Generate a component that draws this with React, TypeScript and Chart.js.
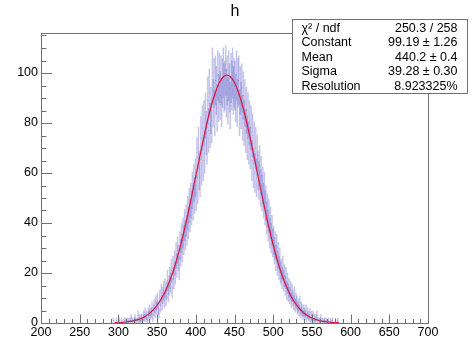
import React, { useEffect, useRef } from "react";
import { Chart, registerables } from "chart.js";

Chart.register(...registerables);

// Histogram "h": bins of width 1 from 200 to 700; counts for bins starting at binLow
const binLow = 290;
const counts = [
  0, 0, 0, 1, 0, 0, 0, 1, 0, 0,
  0, 1, 0, 0, 1, 0, 0, 1, 0, 1,
  0, 1, 0, 1, 0, 1, 2, 0, 1, 0,
  1, 2, 1, 0, 1, 3, 1, 2, 1, 2,
  2, 1, 3, 2, 4, 2, 3, 1, 4, 3,
  5, 3, 4, 6, 2, 5, 7, 4, 8, 6,
  9, 6, 4, 10, 7, 12, 8, 11, 13, 9,
  14, 10, 13, 17, 12, 15, 18, 16, 21, 14,
  22, 18, 24, 20, 27, 23, 29, 26, 22, 31,
  28, 34, 30, 36, 33, 39, 35, 41, 37, 44,
  40, 47, 43, 49, 46, 53, 48, 56, 51, 58,
  52, 66, 55, 70, 61, 58, 74, 63, 78, 65,
  80, 68, 83, 76, 72, 89, 77, 92, 79, 85,
  81, 100, 88, 96, 84, 97, 93, 86, 99, 90,
  98, 91, 97, 88, 96, 100, 94, 95, 101, 92,
  97, 89, 99, 94, 87, 98, 95, 100, 93, 96,
  95, 90, 99, 88, 96, 97, 84, 93, 87, 94,
  82, 91, 80, 88, 77, 85, 74, 83, 72, 80,
  70, 78, 65, 75, 62, 72, 60, 70, 58, 67,
  61, 57, 63, 54, 59, 52, 55, 49, 53, 46,
  48, 42, 45, 39, 43, 36, 40, 34, 37, 32,
  33, 29, 31, 26, 30, 24, 27, 22, 25, 20,
  21, 18, 22, 17, 19, 15, 18, 13, 16, 12,
  14, 11, 13, 9, 12, 10, 8, 11, 7, 9,
  8, 6, 7, 5, 8, 4, 6, 5, 3, 5,
  4, 3, 5, 2, 4, 3, 2, 4, 1, 3,
  2, 3, 1, 2, 1, 2, 3, 1, 0, 1,
  1, 2, 0, 1, 0, 1, 1, 0, 1, 0,
  0, 1, 0, 0, 1, 0, 1, 0, 0, 0,
  1, 0, 0, 1, 0, 0, 0, 0, 0, 0,
];

// Gaussian fit curve, sampled
const fitX = [
  295, 300, 305, 310, 315, 320, 325, 330, 335, 340, 345, 350, 355, 360, 365,
  370, 375, 380, 385, 390, 395, 400, 405, 410, 415, 420, 425, 430, 435, 440,
  445, 450, 455, 460, 465, 470, 475, 480, 485, 490, 495, 500, 505, 510, 515,
  520, 525, 530, 535, 540, 545, 550, 555, 560, 565, 570, 575, 580, 585,
];
const fitY = [
  0.11, 0.17, 0.27, 0.41, 0.62, 0.92, 1.34, 1.93, 2.74, 3.84, 5.25, 7.1, 9.48,
  12.3, 15.9, 20.0, 25.0, 30.6, 37.0, 43.8, 51.2, 58.9, 66.4, 73.8, 80.8, 86.9,
  92.0, 95.9, 98.3, 99.2, 98.4, 96.2, 92.4, 87.4, 81.3, 74.3, 67.0, 59.4, 51.7,
  44.3, 37.5, 31.2, 25.5, 20.4, 16.2, 12.6, 9.6, 7.3, 5.4, 3.9, 2.8, 2.0, 1.39,
  0.95, 0.64, 0.42, 0.27, 0.18, 0.11,
];

const titleText = "h";
const statLabels = ["χ² / ndf", "Constant", "Mean", "Sigma", "Resolution"];
const statValues = [
  "250.3 / 258",
  "99.19 \u00b1 1.26",
  "440.2 \u00b1 0.4",
  "39.28 \u00b1 0.30",
  "8.923325%",
];

const xMin = 200;
const xMax = 700;
const yMin = 0;
const yMax = 116;

const FONT = "'Liberation Sans', Arial, Helvetica, sans-serif";
const barColor = "rgba(100, 100, 200, 0.38)";
const fitColor = "rgb(220, 20, 60)";
const frameColor = "#707070";

const rootPlugin = {
  id: "rootDecor",
  afterDraw(chart: any) {
    const ctx = chart.ctx as CanvasRenderingContext2D;
    const { left, right, top, bottom } = chart.chartArea;
    const xs = chart.scales.x;
    const ys = chart.scales.y;
    ctx.save();
    // frame
    ctx.strokeStyle = frameColor;
    ctx.lineWidth = 1;
    ctx.strokeRect(Math.round(left) + 0.5, Math.round(top) + 0.5, Math.round(right - left), Math.round(bottom - top));
    // x ticks (inward)
    ctx.beginPath();
    for (let v = xMin; v <= xMax; v += 10) {
      const px = Math.round(xs.getPixelForValue(v)) + 0.5;
      const len = v % 50 === 0 ? 8.5 : 4;
      ctx.moveTo(px, bottom);
      ctx.lineTo(px, bottom - len);
    }
    // y ticks (inward)
    for (let v = yMin; v <= yMax; v += 5) {
      const py = Math.round(ys.getPixelForValue(v)) + 0.5;
      const len = v % 20 === 0 ? 11 : 5.5;
      ctx.moveTo(left, py);
      ctx.lineTo(left + len, py);
    }
    ctx.stroke();

    // title
    ctx.fillStyle = "#000";
    ctx.font = `16px ${FONT}`;
    ctx.textAlign = "center";
    ctx.textBaseline = "alphabetic";
    ctx.fillText(titleText, 235, 16);

    // stats box
    const bx = 292.5, by = 19.5, bw = 175, bh = 74;
    ctx.fillStyle = "#fff";
    ctx.fillRect(bx, by, bw, bh);
    ctx.strokeStyle = frameColor;
    ctx.strokeRect(bx, by, bw, bh);
    ctx.fillStyle = "#000";
    ctx.font = `12.5px ${FONT}`;
    ctx.textBaseline = "middle";
    for (let i = 0; i < statLabels.length; i++) {
      const yy = 28.5 + i * 14.4;
      ctx.textAlign = "left";
      ctx.fillText(statLabels[i], 301.5, yy);
      ctx.textAlign = "right";
      ctx.fillText(statValues[i], 457.5, yy);
    }
    ctx.restore();
  },
};

export default function App() {
  const ref = useRef<HTMLCanvasElement>(null);

  useEffect(() => {
    if (!ref.current) return;
    const errBars: any[] = [];
    const marks: any[] = [];
    counts.forEach((c, i) => {
      if (c <= 0) return;
      const x = binLow + i + 0.5;
      const e = Math.sqrt(c);
      errBars.push({ x, y: [c - e, c + e] });
      marks.push({ x, y: c });
    });
    const fit = fitX.map((x, i) => ({ x, y: fitY[i] }));

    const chart = new Chart(ref.current, {
      type: "bar",
      data: {
        datasets: [
          {
            type: "line",
            data: fit,
            borderColor: fitColor,
            borderWidth: 1.2,
            pointRadius: 0,
            cubicInterpolationMode: "monotone",
            order: 0,
          } as any,
          {
            type: "scatter",
            data: marks,
            pointStyle: "line",
            pointRadius: 0.4,
            borderColor: barColor,
            borderWidth: 1,
            showLine: false,
            order: 1,
          } as any,
          {
            type: "bar",
            data: errBars,
            backgroundColor: barColor,
            borderWidth: 0,
            barThickness: 0.8,
            order: 2,
          } as any,
        ],
      },
      options: {
        responsive: false,
        animation: false,
        devicePixelRatio: 1,
        layout: { padding: { top: 33, right: 46, left: 0, bottom: 0 } },
        plugins: {
          legend: { display: false },
          tooltip: { enabled: false },
          title: { display: false },
        },
        scales: {
          x: {
            type: "linear",
            min: xMin,
            max: xMax,
            offset: false,
            grid: { display: false, drawTicks: false },
            border: { display: false },
            ticks: {
              stepSize: 50,
              padding: 2,
              color: "#000",
              font: { family: FONT, size: 12.5 },
              maxRotation: 0,
              autoSkip: false,
            },
            afterFit: (s: any) => {
              s.height = 30;
            },
          },
          y: {
            type: "linear",
            min: yMin,
            max: yMax,
            grid: { display: false, drawTicks: false },
            border: { display: false },
            ticks: {
              stepSize: 20,
              includeBounds: false,
              padding: 3,
              color: "#000",
              font: { family: FONT, size: 12.5 },
            },
            afterFit: (s: any) => {
              s.width = 41;
            },
          },
        },
      } as any,
      plugins: [rootPlugin],
    });
    return () => chart.destroy();
  }, []);

  return (
    <div style={{ position: "absolute", left: 0, top: 0, width: 474, height: 353, background: "#fff" }}>
      <canvas ref={ref} width={474} height={353} style={{ width: 474, height: 353, display: "block" }} />
    </div>
  );
}
